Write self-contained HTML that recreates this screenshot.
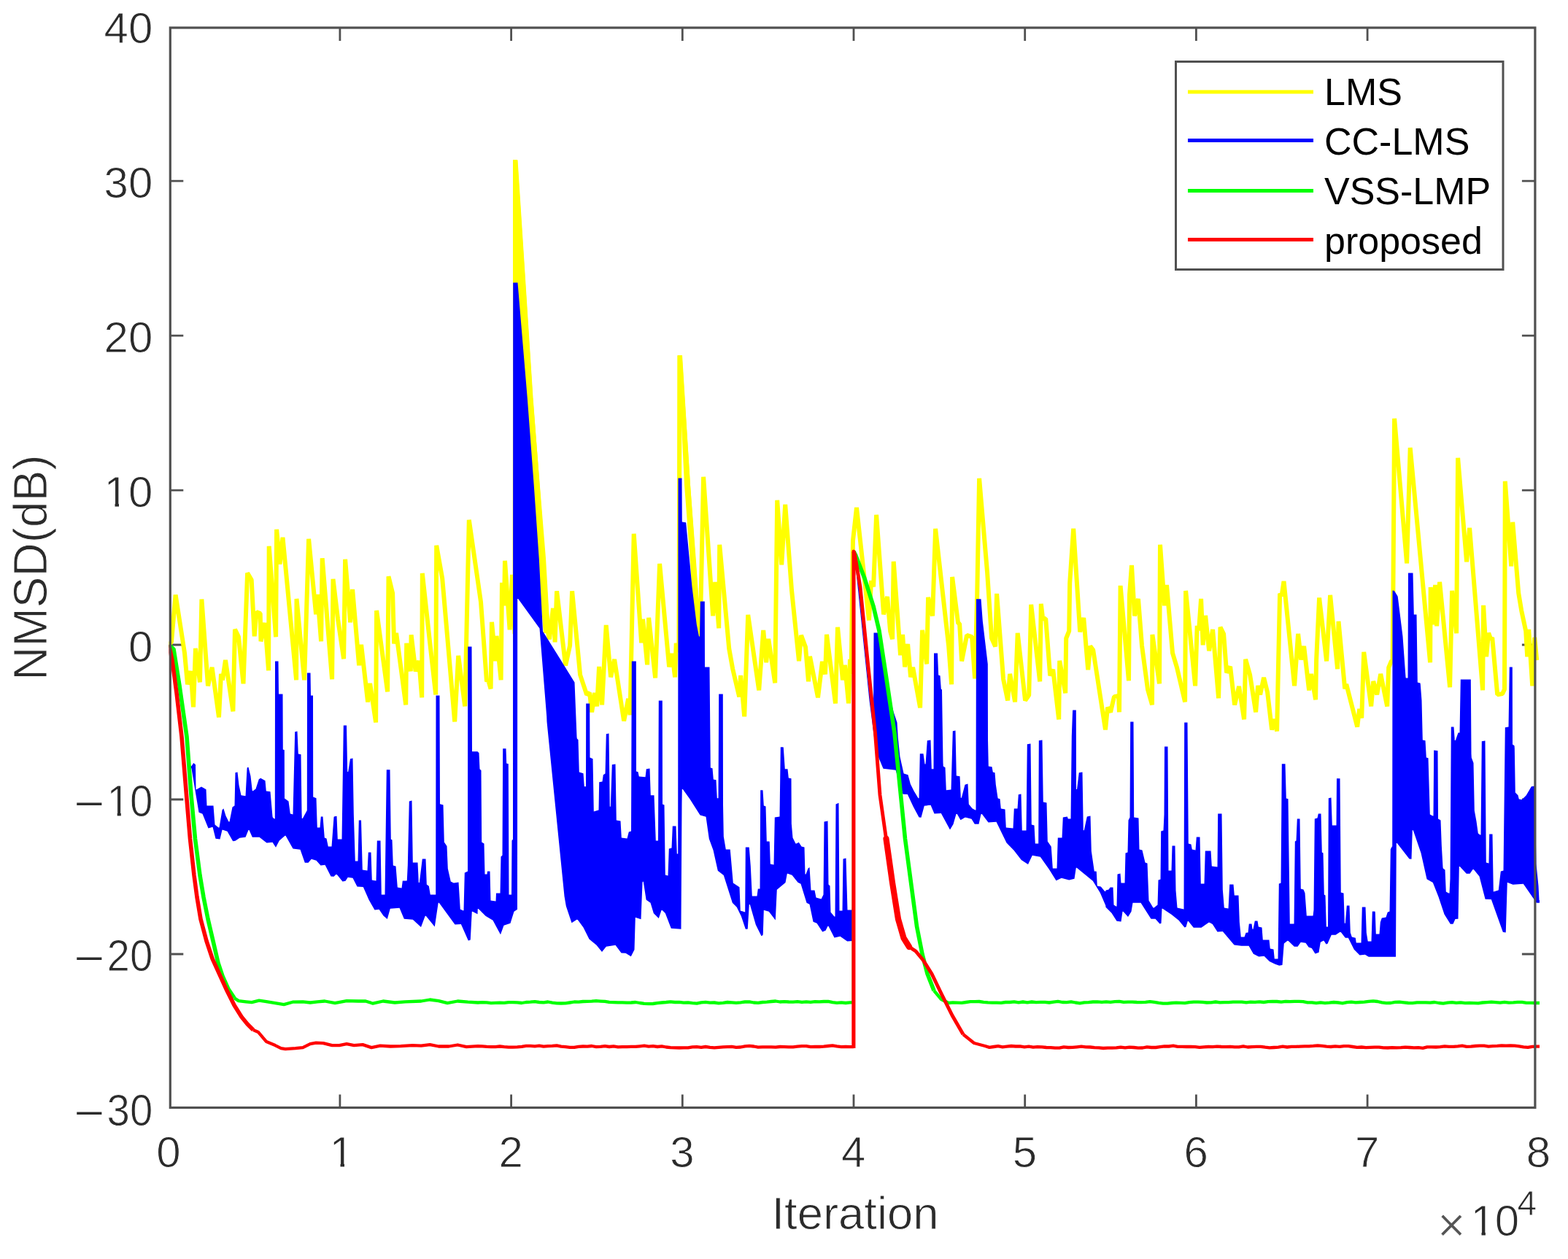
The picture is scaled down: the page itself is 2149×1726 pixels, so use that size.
<!DOCTYPE html>
<html lang="en"><head><meta charset="utf-8"><title>NMSD vs Iteration</title>
<style>html,body{margin:0;padding:0;background:#fff}body{width:2149px;height:1726px;overflow:hidden}</style></head>
<body>
<svg xmlns="http://www.w3.org/2000/svg" width="2149" height="1726" viewBox="0 0 2149 1726" style="display:block">
<rect width="2149" height="1726" fill="#fff"/>
<path d="M465.9 1518.5V1500.5M465.9 38.0V56.0M700.6 1518.5V1500.5M700.6 38.0V56.0M935.3 1518.5V1500.5M935.3 38.0V56.0M1170.0 1518.5V1500.5M1170.0 38.0V56.0M1404.7 1518.5V1500.5M1404.7 38.0V56.0M1639.4 1518.5V1500.5M1639.4 38.0V56.0M1874.1 1518.5V1500.5M1874.1 38.0V56.0M233.3 1308.0H251.3M2103.9 1308.0H2085.9M233.3 1096.0H251.3M2103.9 1096.0H2085.9M233.3 884.0H251.3M2103.9 884.0H2085.9M233.3 672.1H251.3M2103.9 672.1H2085.9M233.3 460.1H251.3M2103.9 460.1H2085.9M233.3 248.2H251.3M2103.9 248.2H2085.9" stroke="#505050" stroke-width="2.8" fill="none"/>
<clipPath id="pc"><rect x="231.5" y="38" width="1878.5" height="1480.5"/></clipPath>
<g clip-path="url(#pc)" fill="none" stroke-linejoin="round" stroke-linecap="butt">
<path d="M231.4 884.1 L235.0 880.1 L240.6 815.5 L253.0 895.1 L257.0 938.3 L261.4 919.9 L265.0 969.3 L268.0 888.9 L274.0 935.3 L276.4 821.5 L285.0 940.3 L290.6 914.9 L300.0 983.3 L303.0 923.9 L305.0 932.3 L309.0 904.9 L319.4 975.3 L322.0 862.9 L327.0 873.1 L333.5 937.3 L339.1 785.5 L344.7 795.1 L348.7 872.3 L351.5 838.9 L356.7 841.1 L357.5 879.3 L363.1 853.9 L368.1 919.3 L368.7 748.8 L378.1 873.3 L379.1 725.8 L383.5 773.3 L387.5 736.8 L406.1 932.3 L406.5 820.9 L417.1 932.3 L423.1 738.8 L433.1 842.3 L435.1 814.9 L440.1 879.3 L441.7 765.2 L455.1 931.3 L456.5 793.9 L463.1 849.1 L471.1 903.3 L473.1 766.8 L480.1 853.3 L483.1 807.9 L492.1 912.3 L495.1 883.9 L504.1 962.3 L507.1 936.9 L515.1 990.4 L516.1 836.9 L531.1 948.3 L532.5 790.3 L538.1 813.1 L540.1 882.3 L543.1 867.9 L556.2 966.3 L557.2 881.9 L562.8 920.3 L563.6 870.3 L569.6 920.3 L574.2 905.9 L578.2 956.3 L578.8 785.9 L589.2 881.1 L597.2 952.3 L598.2 747.8 L606.2 793.1 L623.2 989.4 L628.2 898.9 L637.2 968.3 L642.8 712.8 L659.0 825.1 L667.0 934.3 L669.0 931.9 L672.6 944.3 L674.0 852.9 L679.0 906.3 L680.6 871.9 L686.6 932.3 L688.0 798.9 L691.0 830.3 L692.0 768.8 L698.6 863.3 L702.0 787.9 L704.2 845.1 L705.5 869.2 L706.5 219.8 L727.5 545.0 L736.6 665.0 L744.0 765.0 L750.6 865.0 L753.0 876.3 L758.0 833.9 L760.6 880.3 L763.1 810.3 L775.1 912.3 L781.1 885.1 L784.1 810.3 L795.1 925.1 L804.1 952.3 L808.1 949.9 L811.1 976.3 L815.1 949.9 L818.1 968.3 L821.1 913.9 L825.1 966.3 L830.7 856.9 L837.1 928.3 L842.1 903.9 L855.1 988.4 L861.1 957.9 L863.5 980.3 L868.7 731.8 L879.1 881.3 L881.1 848.9 L887.1 911.3 L889.1 846.9 L898.1 929.3 L904.1 772.8 L917.1 914.3 L921.1 895.9 L925.1 928.3 L926.7 881.9 L930.1 894.3 L930.5 880.0 L931.6 487.8 L943.0 665.0 L951.0 770.0 L958.0 872.0 L959.5 874.3 L964.1 653.8 L977.1 844.3 L980.2 797.9 L985.2 861.3 L986.2 746.8 L999.2 889.1 L1004.2 917.1 L1013.2 955.3 L1015.2 925.9 L1020.2 982.3 L1025.2 842.9 L1040.2 946.3 L1046.2 863.9 L1050.2 908.3 L1053.2 875.9 L1062.2 936.3 L1065.2 685.8 L1071.2 774.3 L1076.2 691.8 L1085.0 809.1 L1095.0 906.3 L1098.0 870.9 L1104.0 887.1 L1108.0 934.3 L1110.0 899.9 L1121.0 956.3 L1127.0 906.9 L1131.0 924.3 L1133.0 869.9 L1145.0 964.3 L1148.0 859.9 L1155.0 932.3 L1158.0 911.9 L1163.0 964.3 L1165.0 903.9 L1166.6 924.3 L1169.0 741.0 L1174.0 695.8 L1191.0 850.3 L1194.1 795.9 L1197.1 804.3 L1201.1 705.8 L1211.1 842.3 L1216.1 817.9 L1220.1 865.1 L1223.1 876.3 L1224.7 769.8 L1234.1 898.3 L1237.1 869.9 L1240.1 914.3 L1244.1 882.9 L1248.1 928.3 L1251.1 914.9 L1261.1 970.3 L1264.1 863.9 L1270.1 910.3 L1272.1 818.9 L1278.1 844.3 L1282.1 724.8 L1300.1 885.1 L1304.1 938.3 L1305.1 790.9 L1313.1 854.3 L1315.1 854.9 L1318.1 906.3 L1325.1 870.9 L1332.1 873.1 L1336.1 930.3 L1339.1 821.1 L1342.1 655.8 L1353.1 785.1 L1359.1 875.1 L1364.1 886.3 L1366.1 813.9 L1375.1 931.1 L1381.1 960.3 L1384.1 923.9 L1391.1 962.3 L1394.7 867.9 L1405.1 960.3 L1410.2 953.1 L1413.2 828.9 L1425.2 934.3 L1426.8 827.9 L1429.2 848.3 L1433.2 847.9 L1439.2 926.3 L1443.2 917.9 L1451.2 986.3 L1452.2 905.9 L1460.2 950.3 L1461.2 875.1 L1465.2 865.1 L1466.2 799.1 L1471.2 724.8 L1480.2 866.3 L1485.2 846.9 L1491.2 918.3 L1494.2 885.9 L1498.2 891.1 L1515.0 1000.4 L1518.0 969.9 L1522.0 976.3 L1527.0 955.1 L1533.0 953.9 L1534.0 976.3 L1535.6 802.9 L1547.0 933.3 L1548.0 815.1 L1551.0 774.9 L1555.0 844.3 L1560.0 820.9 L1565.0 885.1 L1573.0 945.1 L1579.0 966.3 L1579.4 869.9 L1589.0 937.3 L1590.0 746.8 L1596.0 830.3 L1599.0 801.9 L1607.0 895.1 L1613.0 915.1 L1624.1 962.3 L1625.1 809.9 L1638.1 940.3 L1640.7 857.9 L1643.1 864.3 L1646.1 820.9 L1648.7 884.3 L1652.1 843.9 L1657.1 892.3 L1662.1 862.9 L1670.1 957.3 L1672.5 859.9 L1677.1 869.1 L1681.1 922.3 L1686.1 913.9 L1692.1 966.3 L1698.1 940.9 L1705.1 986.3 L1707.1 903.9 L1713.1 925.1 L1721.1 976.3 L1724.1 939.9 L1727.1 952.3 L1732.1 928.9 L1737.1 949.1 L1743.1 1000.4 L1747.1 985.9 L1750.1 1002.4 L1754.1 813.9 L1756.7 816.3 L1759.5 796.9 L1774.1 940.3 L1779.1 868.9 L1783.1 904.3 L1787.1 885.9 L1794.1 946.3 L1797.1 923.9 L1803.1 959.3 L1804.1 905.1 L1808.1 819.5 L1818.1 906.3 L1823.1 815.9 L1833.1 917.3 L1834.5 851.9 L1843.2 944.3 L1845.2 937.9 L1860.2 996.4 L1863.2 971.9 L1866.2 984.3 L1869.2 893.9 L1879.2 968.3 L1882.2 933.9 L1887.2 952.3 L1892.2 923.9 L1901.2 968.3 L1903.2 915.1 L1907.1 905.9 L1908.7 906.3 L1911.1 573.8 L1928.1 772.3 L1932.7 613.8 L1960.1 908.3 L1960.7 804.9 L1964.1 856.3 L1967.1 801.9 L1969.1 858.3 L1973.1 797.9 L1987.1 942.3 L1990.1 809.9 L1996.1 868.3 L1998.1 627.8 L2010.1 770.2 L2014.1 723.8 L2032.1 946.3 L2033.1 829.9 L2037.1 900.3 L2040.1 867.9 L2043.2 876.3 L2045.2 873.9 L2052.2 952.3 L2059.2 951.1 L2062.0 945.1 L2062.8 659.8 L2071.2 776.3 L2073.2 715.8 L2081.2 813.1 L2085.2 837.1 L2091.2 865.1 L2093.2 900.3 L2095.2 862.9 L2100.2 940.3 L2103.2 873.9 L2106.2 905.1" stroke="#ffff00" stroke-width="6.0" stroke-linejoin="bevel"/>
<path d="M703.0 880.0 L703.0 219.0 L709.0 219.0 L730.2 545.0 L739.8 665.0 L748.0 765.0 L754.0 868.0 L745.0 868.0 L736.0 765.0 L728.0 665.0 L718.0 545.0 L708.0 400.0 L708.0 880.0ZM928.5 880.0 L928.5 487.0 L935.0 487.0 L946.0 665.0 L953.5 770.0 L961.0 875.0 L952.0 875.0 L946.0 770.0 L938.0 665.0 L933.0 560.0 L933.0 880.0Z" fill="#ffff00" stroke="none"/>
<path d="M256.0 1032.0 L261.5 1050.3 L262.5 1050.3 L265.2 1046.0 L268.0 1048.3 L268.5 1082.3 L269.5 1082.3 L276.0 1078.6 L282.5 1082.3 L283.5 1104.4 L292.5 1104.4 L294.5 1130.4 L299.5 1134.4 L300.5 1134.4 L304.5 1110.4 L306.2 1108.4 L306.5 1108.7 L309.5 1118.4 L313.5 1126.4 L314.5 1126.4 L318.5 1106.4 L321.5 1104.4 L322.5 1059.3 L325.5 1058.6 L327.5 1076.3 L330.5 1090.3 L336.5 1091.3 L338.5 1054.3 L338.8 1052.3 L340.5 1051.7 L343.5 1063.9 L345.8 1084.2 L346.8 1084.2 L350.5 1081.4 L354.8 1068.2 L357.2 1066.7 L363.5 1070.3 L364.8 1084.4 L370.5 1085.3 L373.5 1119.3 L373.8 1120.6 L375.5 1122.3 L376.8 1122.4 L377.0 906.4 L381.5 906.4 L382.0 951.4 L387.5 951.4 L387.8 1027.5 L389.8 1028.3 L390.0 1094.6 L395.5 1098.4 L397.8 1115.5 L401.5 1116.4 L404.2 1003.3 L407.5 1002.6 L408.8 1033.4 L412.5 1034.3 L413.5 1113.6 L413.8 1122.1 L414.8 1122.1 L420.8 1111.1 L421.0 922.4 L425.5 922.4 L426.0 953.4 L429.0 953.4 L429.2 1092.5 L433.5 1094.3 L434.8 1134.4 L438.5 1134.4 L439.8 1119.4 L442.5 1119.4 L444.8 1148.5 L447.5 1149.4 L449.8 1160.4 L454.5 1160.4 L457.5 1120.6 L457.8 1119.4 L461.5 1118.7 L462.8 1150.4 L468.5 1150.4 L470.8 994.4 L475.0 994.4 L476.2 1058.0 L477.2 1058.0 L480.0 1040.3 L483.5 1039.6 L484.8 1115.7 L486.8 1180.4 L490.5 1180.4 L491.8 1124.4 L495.0 1124.4 L496.8 1192.5 L503.5 1193.4 L504.8 1168.4 L508.5 1168.4 L509.8 1206.5 L515.5 1207.4 L516.8 1152.4 L521.5 1152.4 L522.8 1226.4 L527.5 1226.4 L529.8 1055.3 L534.5 1055.3 L535.8 1150.5 L537.5 1151.4 L538.8 1186.5 L542.5 1187.4 L544.8 1216.5 L550.5 1217.4 L551.8 1207.4 L557.5 1207.4 L557.8 1206.5 L558.8 1186.2 L560.8 1098.4 L564.5 1097.6 L565.8 1182.4 L572.5 1182.4 L573.8 1210.0 L574.8 1210.0 L578.8 1177.4 L583.5 1177.4 L584.8 1212.5 L587.8 1214.7 L589.8 1226.4 L597.2 1226.4 L597.5 953.4 L602.5 953.4 L603.0 1102.3 L607.5 1103.4 L608.8 1154.5 L612.5 1160.1 L613.8 1190.7 L617.8 1208.5 L621.8 1210.4 L628.5 1209.6 L630.8 1246.5 L634.5 1248.3 L635.5 1248.3 L636.8 1196.4 L641.0 1194.4 L641.2 886.4 L646.5 886.4 L647.0 1030.3 L654.5 1030.3 L656.5 1032.3 L657.5 1054.3 L659.5 1056.3 L660.2 1154.5 L663.5 1156.4 L664.5 1198.4 L667.5 1198.4 L668.0 1194.4 L671.5 1194.4 L672.5 1234.4 L679.5 1235.4 L680.0 1224.4 L685.5 1224.4 L686.5 1174.4 L688.5 1172.4 L689.2 1026.3 L693.5 1026.3 L694.2 1046.4 L696.8 1047.3 L697.5 1226.4 L701.0 1226.4 L701.5 1152.4 L703.0 1150.6 L703.2 387.4 L709.5 387.4 L722.8 546.0 L731.8 666.1 L738.8 766.3 L744.0 865.4 L787.5 935.4 L790.5 1010.1 L790.8 1012.5 L792.5 1014.2 L793.8 1058.4 L799.5 1060.3 L800.8 1078.3 L803.0 1078.3 L803.2 964.4 L808.2 964.4 L808.5 1038.5 L812.5 1040.3 L813.8 1112.4 L820.5 1110.5 L821.2 1072.3 L825.5 1071.4 L826.8 1062.2 L829.5 1060.4 L830.8 1006.3 L834.5 1005.6 L835.8 1105.8 L836.8 1105.8 L838.8 1048.3 L843.5 1047.5 L844.8 1124.5 L850.5 1125.4 L851.8 1148.5 L859.5 1149.4 L861.8 1140.4 L865.0 1139.5 L865.8 906.4 L871.8 906.4 L872.0 1057.5 L874.5 1058.3 L875.8 1064.4 L884.5 1065.3 L885.8 1054.3 L890.5 1053.5 L891.8 1090.3 L896.5 1090.3 L898.8 1152.4 L902.0 1152.4 L902.8 960.4 L907.8 960.4 L908.0 1102.6 L910.5 1103.4 L911.8 1199.5 L915.5 1200.4 L916.8 1163.4 L920.5 1162.5 L921.8 1132.4 L926.5 1132.4 L927.8 1170.4 L929.2 1170.4 L929.5 655.4 L934.5 655.4 L934.8 715.4 L940.0 716.3 L940.2 716.9 L948.5 804.4 L954.8 856.2 L958.0 872.4 L959.0 872.4 L959.8 824.5 L965.8 824.5 L966.0 914.5 L972.5 914.5 L973.8 1052.4 L976.5 1053.3 L977.8 1068.4 L981.5 1069.3 L982.8 1094.3 L984.5 1094.3 L985.2 951.4 L990.8 951.4 L991.0 1103.0 L991.8 1146.7 L994.8 1164.4 L1000.5 1164.4 L1000.8 1165.0 L1004.8 1210.5 L1013.5 1216.3 L1014.8 1248.5 L1021.2 1250.4 L1021.8 1161.4 L1026.5 1161.4 L1026.8 1162.1 L1028.8 1187.5 L1030.8 1228.4 L1037.5 1228.4 L1038.8 1218.4 L1041.5 1218.4 L1042.2 1083.3 L1045.5 1083.3 L1046.8 1104.5 L1049.5 1105.4 L1050.8 1153.4 L1054.5 1153.4 L1054.8 1155.0 L1055.8 1184.5 L1060.5 1185.4 L1061.8 1120.4 L1068.5 1119.5 L1069.8 1024.3 L1073.5 1024.3 L1073.8 1025.0 L1075.8 1054.3 L1079.5 1054.3 L1080.8 1066.4 L1084.5 1067.3 L1084.8 1129.2 L1086.5 1148.4 L1090.5 1156.4 L1091.5 1156.4 L1094.8 1154.8 L1098.5 1160.4 L1102.5 1161.4 L1103.5 1198.4 L1104.5 1198.4 L1107.5 1190.4 L1109.5 1189.1 L1111.5 1220.4 L1116.5 1220.4 L1118.5 1230.4 L1125.5 1232.4 L1128.5 1226.4 L1129.5 1126.4 L1134.5 1125.6 L1135.5 1212.4 L1137.5 1214.4 L1138.5 1250.4 L1143.5 1256.4 L1144.5 1256.4 L1145.5 1102.4 L1149.5 1100.8 L1150.5 1248.4 L1154.5 1248.4 L1155.5 1177.4 L1159.5 1176.6 L1161.5 1247.4 L1167.5 1247.4 L1168.5 1240.3 L1169.0 756.9 L1171.5 758.4 L1175.5 790.4 L1189.5 930.4 L1196.0 985.4 L1197.0 985.4 L1197.5 867.4 L1203.5 867.4 L1214.5 935.4 L1224.5 975.4 L1229.5 990.4 L1230.8 1011.8 L1233.5 1037.4 L1238.5 1059.9 L1238.8 1060.4 L1244.5 1062.3 L1247.8 1074.7 L1252.5 1084.2 L1258.5 1094.2 L1259.5 1094.2 L1260.8 1033.3 L1265.5 1033.3 L1267.5 1047.6 L1268.5 1047.6 L1270.8 1015.3 L1275.5 1014.5 L1276.8 1054.3 L1279.5 1054.3 L1280.0 895.4 L1285.0 895.4 L1286.2 925.4 L1288.5 926.3 L1289.8 944.5 L1291.0 945.4 L1292.5 1045.2 L1292.8 1050.5 L1295.5 1052.3 L1296.8 1083.3 L1303.5 1082.4 L1305.8 1002.3 L1309.5 1001.6 L1310.8 1063.4 L1315.5 1064.3 L1316.8 1093.8 L1317.8 1093.8 L1322.5 1075.7 L1326.5 1074.6 L1327.8 1102.6 L1332.5 1108.3 L1336.5 1110.4 L1337.5 1110.4 L1338.0 821.2 L1344.5 821.2 L1346.8 851.5 L1353.8 910.4 L1354.0 1014.4 L1354.8 1050.4 L1359.5 1051.3 L1360.8 1058.4 L1363.5 1059.3 L1364.8 1075.4 L1367.5 1093.7 L1367.8 1094.4 L1370.5 1095.3 L1371.8 1108.5 L1377.5 1109.4 L1378.8 1134.5 L1388.5 1135.4 L1389.8 1108.4 L1394.5 1108.4 L1395.8 1089.3 L1399.5 1088.6 L1400.8 1138.4 L1406.5 1138.4 L1407.8 1020.3 L1412.5 1019.5 L1413.8 1130.5 L1417.5 1131.4 L1418.8 1156.4 L1423.2 1156.4 L1423.8 1015.3 L1428.5 1014.6 L1429.8 1099.5 L1434.5 1100.4 L1435.8 1153.5 L1440.5 1160.2 L1440.8 1161.2 L1442.8 1190.4 L1448.5 1190.4 L1449.8 1148.4 L1455.5 1148.4 L1456.8 1120.4 L1462.8 1119.6 L1463.8 1122.4 L1467.5 1122.4 L1468.8 1009.0 L1470.0 976.0 L1470.2 973.4 L1474.8 973.4 L1475.0 1081.9 L1476.0 1081.9 L1478.8 1059.3 L1483.5 1058.5 L1484.8 1138.2 L1485.8 1138.2 L1489.8 1119.4 L1494.5 1118.6 L1495.8 1166.8 L1499.8 1194.4 L1502.5 1194.4 L1502.8 1195.4 L1503.8 1214.5 L1508.8 1215.5 L1514.2 1222.1 L1515.2 1222.1 L1515.5 1220.4 L1519.5 1219.4 L1521.5 1216.4 L1525.5 1216.4 L1526.5 1240.4 L1529.5 1242.4 L1530.5 1242.4 L1531.5 1198.4 L1535.5 1197.6 L1536.5 1210.4 L1541.5 1210.4 L1542.5 1169.4 L1545.5 1168.4 L1546.5 1124.4 L1548.5 1120.4 L1549.2 989.4 L1553.5 989.4 L1554.2 1120.5 L1560.5 1121.4 L1561.5 1164.4 L1565.5 1165.4 L1569.5 1182.4 L1572.5 1183.4 L1574.5 1234.4 L1580.5 1244.4 L1581.5 1244.4 L1586.5 1240.4 L1587.5 1206.4 L1590.5 1205.4 L1591.2 1139.4 L1594.5 1138.4 L1595.5 1116.4 L1596.0 1023.4 L1600.5 1023.4 L1601.5 1193.4 L1605.5 1193.4 L1606.5 1159.4 L1610.5 1159.4 L1611.5 1220.4 L1613.5 1244.4 L1622.5 1246.4 L1623.2 990.4 L1627.5 990.4 L1628.8 1156.5 L1632.5 1157.4 L1633.8 1164.5 L1638.5 1165.4 L1639.8 1147.4 L1644.5 1147.4 L1645.8 1211.4 L1650.5 1211.4 L1651.8 1166.4 L1659.5 1166.4 L1660.8 1187.5 L1668.5 1188.4 L1669.2 1115.4 L1674.5 1115.4 L1675.8 1219.5 L1677.8 1244.5 L1683.5 1245.4 L1685.2 1212.4 L1690.5 1212.4 L1691.8 1227.4 L1697.5 1227.4 L1698.8 1264.1 L1700.8 1284.4 L1705.5 1284.4 L1707.5 1278.7 L1710.5 1278.4 L1711.8 1266.4 L1715.5 1266.4 L1716.5 1273.7 L1717.5 1273.7 L1719.8 1262.4 L1723.5 1262.4 L1724.8 1270.5 L1729.5 1271.4 L1730.8 1288.4 L1739.5 1288.4 L1740.8 1300.5 L1745.5 1301.4 L1746.8 1314.5 L1751.5 1314.5 L1752.8 1211.4 L1755.5 1210.5 L1756.8 1047.3 L1761.5 1047.3 L1762.8 1094.4 L1765.5 1095.3 L1767.8 1266.4 L1773.5 1266.4 L1774.8 1153.4 L1776.5 1152.5 L1777.8 1122.4 L1781.5 1122.4 L1782.8 1218.5 L1786.5 1219.4 L1788.5 1224.2 L1790.8 1255.4 L1799.5 1255.4 L1800.5 1247.3 L1801.8 1122.4 L1805.5 1121.5 L1806.8 1115.4 L1810.5 1115.4 L1811.8 1168.5 L1813.5 1169.4 L1814.8 1226.5 L1816.5 1227.4 L1817.8 1270.4 L1820.0 1270.4 L1820.8 1094.3 L1824.5 1093.6 L1825.8 1131.4 L1831.5 1131.4 L1832.0 1067.3 L1836.5 1067.3 L1837.8 1223.5 L1841.5 1224.4 L1842.8 1265.8 L1843.8 1265.8 L1845.8 1241.4 L1849.5 1241.4 L1850.8 1278.6 L1852.8 1284.5 L1857.8 1285.8 L1858.8 1292.4 L1865.5 1292.4 L1866.8 1243.4 L1871.5 1243.4 L1872.8 1278.7 L1874.5 1289.2 L1874.8 1290.4 L1879.5 1290.4 L1880.8 1249.4 L1884.5 1249.4 L1884.8 1251.0 L1885.8 1280.4 L1890.5 1280.4 L1891.8 1264.3 L1893.8 1258.4 L1899.5 1257.5 L1901.8 1250.4 L1904.5 1249.5 L1905.8 1164.3 L1907.8 1160.4 L1908.2 1160.4 L1908.5 809.4 L1910.8 809.7 L1915.5 817.3 L1915.8 818.6 L1922.5 872.6 L1926.5 928.1 L1926.8 929.5 L1929.5 929.5 L1930.0 785.5 L1936.5 785.5 L1937.8 842.5 L1941.5 842.5 L1942.8 935.5 L1946.5 936.4 L1946.8 938.3 L1948.5 960.2 L1949.8 1014.4 L1953.5 1015.3 L1954.8 1038.4 L1957.5 1039.3 L1959.8 1116.5 L1963.5 1118.4 L1964.5 1118.4 L1965.2 1028.5 L1970.5 1029.3 L1971.0 1122.4 L1974.5 1124.4 L1975.8 1159.0 L1977.5 1188.8 L1977.8 1190.5 L1980.5 1192.4 L1981.8 1222.5 L1985.5 1224.4 L1986.5 1224.4 L1987.5 1204.6 L1988.8 996.4 L1992.5 996.4 L1993.8 1014.9 L1994.8 1014.9 L1998.5 1004.6 L2000.5 1004.4 L2001.8 931.4 L2015.8 931.4 L2016.5 1033.6 L2016.8 1038.8 L2019.5 1046.1 L2020.8 1111.3 L2023.5 1125.9 L2025.8 1142.5 L2028.5 1144.4 L2029.5 1144.4 L2030.8 1016.3 L2035.5 1015.5 L2036.8 1182.5 L2040.5 1183.4 L2041.2 1143.4 L2045.5 1143.4 L2046.8 1222.4 L2053.5 1220.5 L2053.8 1220.0 L2056.8 1194.4 L2060.5 1193.5 L2062.8 997.3 L2067.5 996.4 L2068.8 914.4 L2072.8 914.4 L2073.0 1020.6 L2075.5 1022.2 L2075.8 1025.6 L2076.8 1086.4 L2080.5 1090.2 L2081.8 1095.4 L2085.8 1096.3 L2091.8 1090.3 L2098.8 1078.3 L2103.5 1077.5 L2105.5 1184.4 L2108.5 1214.5 L2109.5 1234.1 L2111.8 1234.1 L2111.8 1237.8 L2105.8 1237.8 L2087.8 1211.8 L2073.5 1212.7 L2065.8 1209.8 L2063.8 1277.0 L2063.5 1278.5 L2059.8 1277.8 L2043.8 1232.9 L2035.8 1232.8 L2035.5 1232.4 L2027.5 1201.6 L2019.8 1191.9 L2018.5 1191.9 L2014.5 1197.8 L2009.8 1197.8 L2000.8 1187.9 L1999.8 1187.9 L1998.5 1259.8 L1994.5 1260.0 L1991.5 1266.8 L1987.8 1266.8 L1979.5 1253.5 L1971.5 1229.5 L1963.8 1210.1 L1955.5 1205.3 L1947.5 1169.5 L1936.8 1138.2 L1935.8 1138.2 L1934.5 1177.8 L1931.5 1177.6 L1914.8 1155.9 L1913.8 1155.9 L1913.0 1311.8 L1875.8 1311.8 L1870.8 1308.8 L1863.5 1309.5 L1855.8 1301.8 L1847.8 1285.8 L1843.8 1285.8 L1837.8 1277.9 L1836.5 1277.8 L1830.5 1281.8 L1824.8 1281.8 L1819.5 1293.8 L1817.5 1294.5 L1814.5 1289.8 L1813.5 1289.8 L1809.8 1291.7 L1807.5 1305.8 L1802.5 1307.5 L1797.8 1300.0 L1793.5 1298.6 L1789.5 1292.7 L1782.8 1291.8 L1778.5 1297.8 L1773.8 1297.8 L1765.8 1289.9 L1764.5 1289.8 L1759.8 1293.6 L1757.5 1322.9 L1753.2 1323.7 L1747.5 1321.8 L1739.8 1317.9 L1732.5 1310.8 L1725.2 1311.6 L1717.8 1307.8 L1711.5 1296.8 L1701.5 1296.7 L1691.5 1295.6 L1675.8 1276.9 L1668.5 1277.6 L1661.8 1267.0 L1657.8 1264.8 L1656.5 1264.8 L1646.5 1271.8 L1635.8 1271.8 L1628.8 1262.9 L1627.8 1262.9 L1625.5 1270.8 L1623.5 1271.5 L1615.5 1261.8 L1605.5 1253.8 L1593.5 1245.8 L1592.5 1245.8 L1591.5 1265.8 L1589.5 1266.4 L1583.5 1259.8 L1577.5 1259.8 L1563.5 1237.8 L1552.5 1237.8 L1550.5 1249.8 L1546.0 1257.0 L1539.5 1249.8 L1538.5 1249.8 L1536.5 1263.6 L1530.5 1262.8 L1523.5 1251.8 L1515.5 1243.8 L1515.2 1241.2 L1507.8 1223.9 L1497.8 1207.8 L1475.8 1189.8 L1474.8 1189.8 L1472.5 1204.8 L1465.2 1206.6 L1454.8 1203.8 L1447.5 1207.3 L1437.8 1191.8 L1425.8 1174.8 L1414.8 1172.8 L1409.0 1185.1 L1399.8 1178.9 L1389.5 1165.7 L1379.5 1155.6 L1365.5 1126.8 L1354.5 1127.6 L1345.8 1116.0 L1344.5 1116.2 L1341.5 1129.8 L1335.8 1129.8 L1331.5 1122.7 L1323.8 1120.8 L1322.5 1120.8 L1316.5 1124.2 L1311.8 1116.0 L1310.5 1116.1 L1306.5 1129.9 L1302.0 1137.6 L1289.8 1115.0 L1280.5 1115.5 L1275.5 1103.8 L1266.8 1104.7 L1262.5 1120.8 L1259.5 1120.6 L1251.5 1105.5 L1243.8 1089.0 L1237.5 1088.7 L1227.5 1055.7 L1210.5 1053.7 L1200.5 1029.7 L1191.5 960.6 L1173.0 779.6 L1172.0 779.6 L1171.5 1289.7 L1161.2 1290.6 L1151.5 1283.8 L1143.5 1285.5 L1135.5 1269.8 L1134.5 1269.8 L1131.5 1275.8 L1127.2 1277.4 L1119.5 1265.8 L1114.5 1263.8 L1109.5 1239.8 L1105.5 1237.8 L1097.5 1211.8 L1093.5 1209.8 L1085.5 1199.8 L1079.8 1197.8 L1078.8 1197.8 L1076.5 1209.9 L1064.8 1219.7 L1062.8 1261.5 L1053.8 1249.8 L1046.8 1247.8 L1045.8 1280.1 L1045.5 1281.9 L1043.5 1283.2 L1035.8 1267.8 L1027.8 1239.9 L1026.8 1239.9 L1024.8 1272.9 L1024.5 1273.8 L1021.8 1273.8 L1015.8 1255.9 L1009.8 1243.8 L1003.8 1237.8 L991.8 1199.9 L983.8 1193.8 L977.5 1165.5 L971.8 1150.1 L967.5 1119.7 L959.5 1117.6 L945.5 1095.5 L935.8 1081.9 L934.8 1081.9 L934.5 1100.9 L933.5 1273.7 L919.8 1272.8 L911.8 1252.1 L907.8 1247.9 L906.5 1248.1 L902.8 1258.9 L895.8 1251.9 L891.5 1237.7 L885.8 1233.8 L885.5 1233.1 L881.8 1208.7 L880.8 1208.7 L880.5 1210.4 L878.5 1260.3 L870.8 1257.8 L869.5 1302.0 L864.8 1311.2 L857.5 1306.8 L851.5 1306.6 L843.5 1295.8 L830.8 1297.7 L825.0 1305.0 L817.5 1295.7 L807.5 1287.5 L799.5 1271.6 L791.8 1261.0 L790.5 1260.8 L783.5 1265.2 L775.8 1242.2 L773.5 1228.7 L749.5 989.6 L749.2 981.9 L739.5 861.6 L710.2 821.0 L709.2 821.0 L709.0 1246.7 L704.5 1249.8 L699.5 1265.8 L690.5 1268.8 L686.0 1281.3 L675.5 1261.8 L665.5 1255.8 L655.8 1246.0 L654.8 1246.0 L654.5 1253.2 L647.8 1249.8 L646.8 1249.8 L644.8 1287.8 L644.5 1288.8 L641.8 1289.5 L631.8 1266.9 L623.5 1267.5 L601.8 1237.8 L600.8 1237.8 L600.5 1239.1 L595.8 1270.6 L583.8 1255.8 L582.8 1255.8 L582.5 1256.3 L577.0 1271.0 L565.8 1260.8 L553.8 1259.8 L547.5 1244.8 L534.8 1245.7 L530.8 1260.0 L525.5 1255.6 L519.5 1246.8 L513.5 1247.6 L505.5 1233.5 L497.8 1216.1 L489.5 1215.5 L483.5 1203.7 L476.8 1202.8 L473.5 1207.8 L469.5 1208.6 L461.8 1198.9 L460.5 1198.8 L457.5 1201.8 L453.5 1201.5 L445.5 1185.8 L439.5 1186.6 L433.5 1179.7 L426.8 1177.8 L422.5 1182.8 L417.8 1182.8 L411.5 1164.7 L401.5 1163.6 L391.5 1145.8 L390.5 1145.8 L382.8 1152.6 L378.0 1161.8 L373.5 1154.8 L365.5 1155.6 L355.5 1147.8 L345.8 1147.8 L341.5 1138.0 L340.5 1138.0 L336.5 1147.8 L328.5 1148.8 L322.5 1152.8 L319.2 1153.3 L311.5 1139.8 L305.5 1137.8 L304.5 1137.8 L301.5 1150.6 L295.5 1149.8 L291.5 1133.8 L285.5 1135.4 L277.5 1115.8 L272.5 1113.8 L262.5 1053.7 L256.5 1039.7 L256.0 1039.7Z" fill="#0000ff" stroke="none"/>
<path d="M321.0 1368.1 L327.0 1372.1 L337.1 1373.3 L345.1 1374.1 L355.1 1371.7 L365.1 1373.1 L377.1 1375.1 L389.1 1377.1 L401.1 1373.7 L415.1 1373.3 L425.1 1374.5 L435.1 1373.3 L445.1 1372.5 L459.1 1375.1 L475.1 1372.1 L491.1 1372.5 L501.1 1372.5 L511.1 1375.7 L525.1 1372.5 L541.1 1374.5 L555.2 1373.3 L577.2 1372.5 L589.2 1370.5 L601.2 1372.1 L613.2 1375.1 L627.2 1372.5 L641.2 1373.7 L655.0 1374.5 L661.0 1374.2 L667.0 1374.3 L673.0 1375.1 L679.0 1374.9 L685.0 1374.7 L691.0 1374.8 L697.0 1374.1 L703.0 1374.2 L709.0 1374.4 L715.0 1375.0 L721.0 1374.0 L727.0 1373.7 L733.0 1373.1 L739.0 1374.0 L745.0 1374.4 L751.0 1373.5 L757.0 1374.6 L763.0 1375.4 L769.0 1375.5 L775.0 1375.4 L781.0 1374.5 L787.0 1373.5 L793.0 1373.7 L799.0 1373.0 L805.0 1372.8 L811.0 1372.6 L817.0 1372.2 L823.0 1372.6 L829.0 1372.9 L835.0 1373.9 L841.0 1374.1 L847.0 1374.4 L853.0 1374.4 L859.0 1374.7 L865.0 1374.5 L871.0 1374.0 L877.0 1375.0 L883.0 1375.8 L889.0 1376.1 L895.0 1376.0 L901.0 1375.2 L907.0 1374.5 L913.0 1374.0 L919.0 1373.3 L925.0 1374.0 L931.0 1373.9 L937.0 1374.7 L943.0 1374.4 L949.0 1375.2 L955.0 1375.7 L961.0 1374.4 L967.0 1373.8 L973.0 1374.7 L979.0 1374.5 L985.0 1375.4 L991.0 1374.9 L997.0 1374.0 L1003.0 1374.3 L1009.0 1374.8 L1015.0 1374.3 L1021.0 1373.5 L1027.0 1373.4 L1033.0 1374.5 L1039.0 1374.9 L1045.0 1374.0 L1051.0 1373.6 L1057.0 1373.0 L1063.0 1372.5 L1069.0 1373.5 L1075.0 1373.1 L1081.0 1373.5 L1087.0 1373.6 L1093.0 1373.2 L1099.0 1373.9 L1105.0 1373.3 L1111.0 1373.8 L1117.0 1373.2 L1123.0 1373.3 L1129.0 1373.0 L1135.0 1372.9 L1141.0 1374.2 L1147.0 1374.8 L1153.0 1374.3 L1159.0 1375.0 L1165.0 1374.3 L1169.0 1374.3 L1169.7 1374.3 L1170.0 756.0" stroke="#00ff00" stroke-width="4.3"/>
<path d="M231.5 884.0 L238.0 890.0 L246.0 940.0 L256.0 1010.0 L262.0 1090.0 L267.5 1150.0 L274.0 1200.0 L279.0 1230.0 L285.0 1260.0 L292.0 1290.0 L299.0 1320.1 L305.0 1338.1 L313.0 1356.1 L321.0 1368.1" stroke="#00ff00" stroke-width="5.6"/>
<path d="M1280.0 1358.0 L1290.0 1370.0 L1300.0 1375.0 L1306.0 1374.3 L1312.0 1374.6 L1318.0 1374.8 L1324.0 1374.0 L1330.0 1373.1 L1336.0 1373.2 L1342.0 1373.0 L1348.0 1373.9 L1354.0 1374.4 L1360.0 1374.6 L1366.0 1374.6 L1372.0 1374.8 L1378.0 1374.0 L1384.0 1374.0 L1390.0 1373.4 L1396.0 1374.4 L1402.0 1373.5 L1408.0 1374.3 L1414.0 1373.5 L1420.0 1374.1 L1426.0 1373.8 L1432.0 1373.8 L1438.0 1374.5 L1444.0 1373.6 L1450.0 1372.9 L1456.0 1374.0 L1462.0 1374.1 L1468.0 1373.4 L1474.0 1374.5 L1480.0 1375.3 L1486.0 1374.3 L1492.0 1374.2 L1498.0 1373.5 L1504.0 1373.3 L1510.0 1373.8 L1516.0 1373.3 L1522.0 1373.9 L1528.0 1373.2 L1534.0 1372.8 L1540.0 1373.8 L1546.0 1373.7 L1552.0 1373.7 L1558.0 1374.0 L1564.0 1374.1 L1570.0 1373.9 L1576.0 1373.1 L1582.0 1373.8 L1588.0 1374.8 L1594.0 1375.6 L1600.0 1375.6 L1606.0 1375.0 L1612.0 1374.6 L1618.0 1374.9 L1624.0 1375.1 L1630.0 1374.1 L1636.0 1373.7 L1642.0 1373.6 L1648.0 1373.8 L1654.0 1374.5 L1660.0 1374.4 L1666.0 1373.5 L1672.0 1374.3 L1678.0 1374.2 L1684.0 1374.2 L1690.0 1373.7 L1696.0 1373.7 L1702.0 1373.7 L1708.0 1374.3 L1714.0 1373.6 L1720.0 1373.8 L1726.0 1373.3 L1732.0 1374.0 L1738.0 1373.2 L1744.0 1373.0 L1750.0 1373.0 L1756.0 1373.6 L1762.0 1372.9 L1768.0 1373.2 L1774.0 1372.9 L1780.0 1372.8 L1786.0 1373.2 L1792.0 1374.3 L1798.0 1374.3 L1804.0 1375.2 L1810.0 1374.3 L1816.0 1375.1 L1822.0 1374.7 L1828.0 1374.0 L1834.0 1374.5 L1840.0 1375.3 L1846.0 1374.1 L1852.0 1373.7 L1858.0 1374.4 L1864.0 1374.0 L1870.0 1373.6 L1876.0 1372.8 L1882.0 1372.3 L1888.0 1373.0 L1894.0 1374.3 L1900.0 1375.2 L1906.0 1375.0 L1912.0 1373.9 L1918.0 1373.7 L1924.0 1374.4 L1930.0 1375.0 L1936.0 1375.1 L1942.0 1374.4 L1948.0 1374.4 L1954.0 1374.3 L1960.0 1374.6 L1966.0 1374.0 L1972.0 1375.0 L1978.0 1375.6 L1984.0 1374.6 L1990.0 1374.1 L1996.0 1374.9 L2002.0 1374.3 L2008.0 1375.2 L2014.0 1375.0 L2020.0 1375.2 L2026.0 1375.4 L2032.0 1374.5 L2038.0 1374.1 L2044.0 1373.7 L2050.0 1374.2 L2056.0 1374.6 L2062.0 1373.8 L2068.0 1374.7 L2074.0 1374.4 L2080.0 1373.9 L2086.0 1373.9 L2092.0 1374.9 L2098.0 1374.9 L2104.0 1375.0 L2110.0 1375.0" stroke="#00ff00" stroke-width="4.3"/>
<path d="M1170.0 756.0 L1170.0 756.0 L1173.0 762.0 L1185.0 793.0 L1197.0 831.0 L1205.0 865.0 L1215.0 931.0 L1226.0 1005.0 L1232.5 1070.0 L1240.5 1150.0 L1248.5 1210.0 L1256.5 1270.0 L1264.0 1308.0 L1271.0 1335.0 L1280.0 1358.0" stroke="#00ff00" stroke-width="5.6"/>
<path d="M347.1 1412.1 L354.1 1415.1 L365.1 1428.1 L377.1 1433.1 L385.1 1437.1 L391.1 1438.1 L405.1 1437.1 L415.1 1436.1 L425.1 1431.1 L433.1 1429.7 L443.1 1430.1 L455.1 1433.1 L465.1 1433.1 L475.1 1431.1 L485.1 1433.1 L497.1 1432.1 L509.1 1436.1 L521.1 1433.7 L535.1 1434.5 L549.2 1434.1 L565.2 1433.1 L577.2 1433.7 L589.2 1432.1 L601.2 1434.5 L615.2 1434.5 L627.2 1432.5 L639.2 1435.1 L655.0 1434.1 L661.0 1434.4 L667.0 1434.9 L673.0 1435.2 L679.0 1435.1 L685.0 1434.5 L691.0 1435.2 L697.0 1435.7 L703.0 1435.6 L709.0 1435.4 L715.0 1434.8 L721.0 1433.9 L727.0 1433.9 L733.0 1434.4 L739.0 1433.7 L745.0 1434.6 L751.0 1434.2 L757.0 1433.9 L763.0 1433.3 L769.0 1434.7 L775.0 1435.2 L781.0 1435.9 L787.0 1435.9 L793.0 1434.8 L799.0 1434.5 L805.0 1434.6 L811.0 1434.0 L817.0 1435.1 L823.0 1434.8 L829.0 1434.2 L835.0 1435.0 L841.0 1434.3 L847.0 1435.3 L853.0 1435.1 L859.0 1435.2 L865.0 1434.8 L871.0 1434.9 L877.0 1434.3 L883.0 1433.6 L889.0 1434.6 L895.0 1434.2 L901.0 1435.0 L907.0 1434.4 L913.0 1435.5 L919.0 1436.1 L925.0 1436.3 L931.0 1436.5 L937.0 1436.3 L943.0 1436.4 L949.0 1435.3 L955.0 1435.2 L961.0 1435.8 L967.0 1435.0 L973.0 1435.8 L979.0 1436.4 L985.0 1435.8 L991.0 1435.4 L997.0 1435.2 L1003.0 1434.9 L1009.0 1435.9 L1015.0 1435.5 L1021.0 1434.4 L1027.0 1433.8 L1033.0 1434.5 L1039.0 1435.6 L1045.0 1435.4 L1051.0 1435.3 L1057.0 1435.3 L1063.0 1435.7 L1069.0 1435.0 L1075.0 1435.2 L1081.0 1435.3 L1087.0 1435.4 L1093.0 1434.7 L1099.0 1434.2 L1105.0 1434.1 L1111.0 1435.1 L1117.0 1434.8 L1123.0 1435.0 L1129.0 1434.7 L1135.0 1434.0 L1141.0 1433.4 L1147.0 1434.4 L1153.0 1435.1 L1159.0 1434.8 L1165.0 1435.2 L1169.0 1435.2 L1169.7 1435.2 L1170.0 756.0" stroke="#ff0000" stroke-width="4.3"/>
<path d="M231.5 884.0 L236.0 905.0 L242.0 950.0 L249.0 1010.0 L255.5 1090.0 L260.5 1150.0 L266.0 1200.0 L270.0 1230.0 L275.0 1260.0 L283.0 1290.0 L291.0 1314.1 L301.0 1336.1 L311.0 1358.1 L321.0 1378.1 L331.0 1394.1 L339.1 1404.1 L347.1 1412.1" stroke="#ff0000" stroke-width="5.6"/>
<path d="M1320.0 1418.0 L1335.0 1430.0 L1350.0 1434.0 L1356.0 1435.9 L1362.0 1435.0 L1368.0 1434.1 L1374.0 1435.3 L1380.0 1434.6 L1386.0 1434.0 L1392.0 1434.5 L1398.0 1434.3 L1404.0 1435.3 L1410.0 1434.7 L1416.0 1435.6 L1422.0 1435.1 L1428.0 1435.3 L1434.0 1436.0 L1440.0 1436.1 L1446.0 1436.7 L1452.0 1436.7 L1458.0 1435.4 L1464.0 1436.0 L1470.0 1435.9 L1476.0 1435.3 L1482.0 1434.7 L1488.0 1435.4 L1494.0 1435.5 L1500.0 1436.2 L1506.0 1436.4 L1512.0 1437.0 L1518.0 1436.6 L1524.0 1436.6 L1530.0 1436.4 L1536.0 1435.6 L1542.0 1436.3 L1548.0 1435.6 L1554.0 1436.0 L1560.0 1436.6 L1566.0 1436.5 L1572.0 1435.4 L1578.0 1436.0 L1584.0 1436.0 L1590.0 1435.2 L1596.0 1434.3 L1602.0 1434.5 L1608.0 1433.7 L1614.0 1434.9 L1620.0 1434.9 L1626.0 1435.0 L1632.0 1434.8 L1638.0 1435.2 L1644.0 1435.9 L1650.0 1435.3 L1656.0 1435.0 L1662.0 1435.2 L1668.0 1434.7 L1674.0 1435.0 L1680.0 1435.1 L1686.0 1434.9 L1692.0 1435.3 L1698.0 1435.3 L1704.0 1434.4 L1710.0 1435.5 L1716.0 1435.1 L1722.0 1434.9 L1728.0 1434.8 L1734.0 1435.7 L1740.0 1436.4 L1746.0 1436.0 L1752.0 1435.6 L1758.0 1434.7 L1764.0 1435.5 L1770.0 1434.8 L1776.0 1434.9 L1782.0 1434.6 L1788.0 1434.4 L1794.0 1434.3 L1800.0 1433.9 L1806.0 1433.3 L1812.0 1433.8 L1818.0 1434.6 L1824.0 1435.0 L1830.0 1434.4 L1836.0 1434.9 L1842.0 1434.1 L1848.0 1434.2 L1854.0 1435.0 L1860.0 1435.8 L1866.0 1435.5 L1872.0 1436.1 L1878.0 1435.8 L1884.0 1435.6 L1890.0 1435.6 L1896.0 1436.4 L1902.0 1436.5 L1908.0 1436.1 L1914.0 1436.3 L1920.0 1436.2 L1926.0 1435.6 L1932.0 1436.0 L1938.0 1436.4 L1944.0 1436.2 L1950.0 1436.8 L1956.0 1435.4 L1962.0 1435.3 L1968.0 1435.5 L1974.0 1435.1 L1980.0 1434.4 L1986.0 1434.9 L1992.0 1434.8 L1998.0 1434.4 L2004.0 1433.7 L2010.0 1434.9 L2016.0 1434.7 L2022.0 1434.0 L2028.0 1433.7 L2034.0 1433.6 L2040.0 1434.6 L2046.0 1434.1 L2052.0 1433.9 L2058.0 1433.4 L2064.0 1433.7 L2070.0 1433.5 L2076.0 1433.6 L2082.0 1434.4 L2088.0 1435.4 L2094.0 1435.9 L2100.0 1434.8 L2106.0 1434.6 L2110.0 1434.6" stroke="#ff0000" stroke-width="4.3"/>
<path d="M1170.0 1437.0 L1170.0 756.0 L1170.0 756.0 L1171.5 760.0 L1179.0 805.0 L1189.0 905.0 L1199.5 1005.0 L1206.0 1090.0 L1214.5 1150.0 L1223.0 1210.0 L1231.0 1260.0 L1238.5 1286.0 L1246.0 1298.0 L1255.0 1304.0 L1265.0 1316.0 L1277.0 1335.0 L1290.0 1362.0 L1305.0 1392.0 L1320.0 1418.0" stroke="#ff0000" stroke-width="4.8999999999999995"/>
<path d="M1214.5 1150.0 L1223.0 1210.0 L1231.0 1260.0 L1238.5 1286.0 L1246.0 1298.0" stroke="#ff0000" stroke-width="8.2" stroke-linecap="round"/>
</g>
<rect x="233.3" y="38.0" width="1870.6000000000001" height="1480.5" stroke="#505050" stroke-width="3.2" fill="none"/>
<g font-family="'Liberation Sans', Arial, sans-serif" font-size="60" fill="#2b2b2b" stroke="#fff" stroke-width="0.9" stroke-linejoin="round">
<text x="230.9" y="1600.3" text-anchor="middle">0</text>
<text x="468.2" y="1600.3" text-anchor="middle">1</text>
<text x="700.3" y="1600.3" text-anchor="middle">2</text>
<text x="935.0" y="1600.3" text-anchor="middle">3</text>
<text x="1169.7" y="1600.3" text-anchor="middle">4</text>
<text x="1404.4" y="1600.3" text-anchor="middle">5</text>
<text x="1639.1" y="1600.3" text-anchor="middle">6</text>
<text x="1873.8" y="1600.3" text-anchor="middle">7</text>
<text x="2108.5" y="1600.3" text-anchor="middle">8</text>
<text transform="translate(209.3,1542.6) scale(0.94,1.02)" text-anchor="end">30</text>
<text transform="translate(122,1542.1) scale(1.17,0.8)" text-anchor="middle" stroke="none">−</text>
<text transform="translate(209.3,1330.7) scale(0.94,1.02)" text-anchor="end">20</text>
<text transform="translate(122,1330.2) scale(1.17,0.8)" text-anchor="middle" stroke="none">−</text>
<text transform="translate(209.3,1118.7) scale(0.94,1.02)" text-anchor="end">10</text>
<text transform="translate(122,1118.2) scale(1.17,0.8)" text-anchor="middle" stroke="none">−</text>
<text x="209.3" y="906.7" text-anchor="end">0</text>
<text x="209.3" y="694.8" text-anchor="end">10</text>
<text x="209.3" y="482.8" text-anchor="end">20</text>
<text x="209.3" y="270.9" text-anchor="end">30</text>
<text x="209.3" y="58.9" text-anchor="end">40</text>
<text x="1172" y="1685.2" text-anchor="middle" font-size="63.4">Iteration</text>
<text transform="translate(63.7,778) rotate(-90)" text-anchor="middle" font-size="64">NMSD(dB)</text>
<text x="1989.2" y="1702" text-anchor="middle" font-size="66" fill="#555">×</text>
<text x="2015.5" y="1694.2">10</text>
<text x="2079.5" y="1666.3" font-size="48">4</text>
</g>
<g fill="#fff"><rect x="455.1" y="1595.2" width="11.4" height="5.9"/><rect x="472.0" y="1595.2" width="11.1" height="5.9"/><rect x="149.9" y="1113.6" width="10.8" height="5.9"/><rect x="165.8" y="1113.6" width="10.5" height="5.9"/><rect x="146.1" y="689.7" width="11.4" height="5.9"/><rect x="163.0" y="689.7" width="11.1" height="5.9"/><rect x="2019.1" y="1689.1" width="11.4" height="5.9"/><rect x="2035.9" y="1689.1" width="11.1" height="5.9"/></g>
<rect x="1611.5" y="84.5" width="448.5" height="285.0" fill="#fff" stroke="#505050" stroke-width="3"/>
<g font-family="'Liberation Sans', Arial, sans-serif" font-size="52" fill="#000">
<line x1="1628" y1="126.0" x2="1800" y2="126.0" stroke="#ffff00" stroke-width="5"/>
<text x="1815" y="143.5">LMS</text>
<line x1="1628" y1="192.5" x2="1800" y2="192.5" stroke="#0000ff" stroke-width="5"/>
<text x="1815" y="211.5">CC-LMS</text>
<line x1="1628" y1="261.6" x2="1800" y2="261.6" stroke="#00ff00" stroke-width="5"/>
<text x="1815" y="279.6">VSS-LMP</text>
<line x1="1628" y1="328.5" x2="1800" y2="328.5" stroke="#ff0000" stroke-width="5"/>
<text x="1815" y="348.1">proposed</text>
</g>
</svg>
</body></html>
